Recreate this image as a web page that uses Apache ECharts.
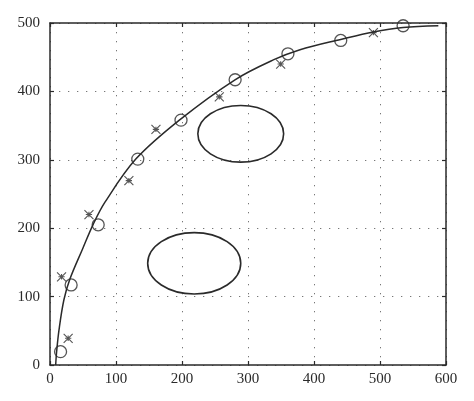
<!DOCTYPE html>
<html>
<head>
<meta charset="utf-8">
<script src="https://cdn.jsdelivr.net/npm/echarts@6/dist/echarts.min.js"></script>
<style>
html,body{margin:0;padding:0;background:#fff;}
#c{width:474px;height:401px;}
</style>
</head>
<body>
<div id="c"></div>
<script>
var xTicks = [0, 100, 200, 300, 400, 500, 600];
var yTicks = [0, 100, 200, 300, 400, 500];
var circlePoints = [[16,19.5],[32,117],[73,205],[133,301],[198.5,358],[280.5,417],[360.5,455],[440.5,474.5],[535,496]];
var starPoints = [[27.5,39],[17.5,129],[59,220],[119.5,269.5],[160.5,344.5],[256.5,392],[349.5,440],[490,486]];
var curvePoints = [[8.6,0],[10,19],[13.6,51],[21,95],[30.3,126],[49.5,170],[65.6,206],[83.3,238],[130,301],[196,358],[280.3,417],[338.3,446],[378.8,461],[440.5,476],[489.9,487],[535,493.5],[588.4,496]];
// ellipses: [centerX, centerY, radiusX, radiusY] in data units
var ellipses = [[289,338,65,41.4],[218.5,148.7,70.5,44.9]];

var font = 'Liberation Serif';
var dark = '#2a2a2a';
var chart = echarts.init(document.getElementById('c'), null, {renderer:'canvas'});
function baseAxis(extra){
  return Object.assign({
    type:'value',
    axisLine:{show:true,onZero:false,lineStyle:{color:dark,width:1.5}},
    axisTick:{show:true,inside:true,length:4,lineStyle:{color:dark,width:1.2}},
    splitLine:{show:false}
  }, extra);
}
chart.setOption({
  backgroundColor:'#fff',
  animation:false,
  grid:{left:50,right:28,top:23,bottom:36},
  xAxis:[
    baseAxis({min:xTicks[0],max:xTicks[xTicks.length-1],interval:100,position:'bottom',
      axisLabel:{show:true,fontFamily:font,fontSize:15,color:dark,margin:7},
      splitLine:{show:true,lineStyle:{color:'#777',width:1,type:[1.3,7.7]}}}),
    baseAxis({min:xTicks[0],max:xTicks[xTicks.length-1],interval:100,position:'top',axisLabel:{show:false}})
  ],
  yAxis:[
    baseAxis({min:yTicks[0],max:yTicks[yTicks.length-1],interval:100,position:'left',
      axisLabel:{show:true,fontFamily:font,fontSize:15,color:dark,margin:10},
      splitLine:{show:true,lineStyle:{color:'#777',width:1,type:[1.3,7.7]}}}),
    baseAxis({min:yTicks[0],max:yTicks[yTicks.length-1],interval:100,position:'right',axisLabel:{show:false}})
  ],
  series:[
    {type:'line',data:curvePoints,smooth:0.35,symbol:'none',
      lineStyle:{color:dark,width:1.5},z:3},
    {type:'custom',data:ellipses,encode:{x:0,y:1},z:3,
      renderItem:function(params,api){
        var c = api.coord([api.value(0),api.value(1)]);
        var s = api.size([api.value(2),api.value(3)]);
        return {type:'ellipse',shape:{cx:c[0],cy:c[1],rx:s[0],ry:s[1]},
          style:{fill:'none',stroke:dark,lineWidth:1.6}};
      }},
    {type:'scatter',data:circlePoints,symbol:'circle',symbolSize:12,z:4,
      itemStyle:{color:'rgba(255,255,255,0)',borderColor:dark,borderWidth:1.3}},
    {type:'scatter',data:starPoints,symbol:'path://M0,0L10,10M10,0L0,10M1.5,5L8.5,5M5,2L5,8',symbolSize:9,z:4,
      itemStyle:{color:'rgba(0,0,0,0)',borderColor:dark,borderWidth:1.1}}
  ]
});
</script>
</body>
</html>
